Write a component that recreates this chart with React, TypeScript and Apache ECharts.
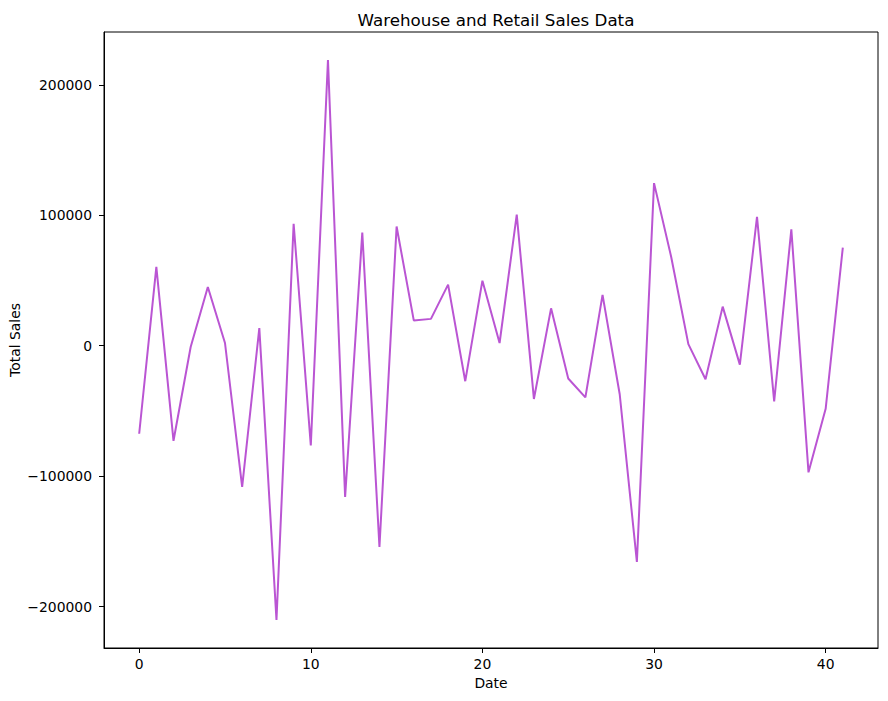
import { useEffect, useRef } from "react";
import * as echarts from "echarts";

// x positions (row index used as "Date" in the source plot)
const DATES = [
  0, 1, 2, 3, 4, 5, 6, 7, 8, 9, 10, 11, 12, 13, 14, 15, 16, 17, 18, 19, 20,
  21, 22, 23, 24, 25, 26, 27, 28, 29, 30, 31, 32, 33, 34, 35, 36, 37, 38, 39, 40, 41,
];

// total sales
const TOTAL_SALES = [
  -67500, 60500, -72900, -1000, 45100, 2100, -108300, 13600, -210300, 93500,
  -76500, 219100, -115900, 86800, -154300, 91400, 19400, 20600, 46900, -27200,
  49900, 2100, 100500, -40800, 28700, -25100, -39600, 39000, -37200, -165800,
  124700, 68100, 1200, -25700, 30000, -14500, 98900, -42700, 89300, -97100,
  -48400, 75300,
];

const X_TICKS = [0, 10, 20, 30, 40];
const Y_TICKS = [-200000, -100000, 0, 100000, 200000];

const FONT = "DejaVu Sans";

const fmt = (v: number) => (v < 0 ? "\u2212" + Math.abs(v) : String(v));

export default function App() {
  const chartRef = useRef<HTMLDivElement>(null);

  useEffect(() => {
    document.body.style.margin = "0";
    if (!chartRef.current) return;
    const chart = echarts.init(chartRef.current, null, { renderer: "svg" });

    chart.setOption({
      animation: false,
      backgroundColor: "#fff",
      title: {
        text: "Warehouse and Retail Sales Data",
        left: 491,
        top: 6,
        textAlign: "center",
        textStyle: { fontFamily: FONT, fontSize: 16.7, fontWeight: "normal", color: "#000" },
      },
      grid: {
        left: 104,
        right: 10,
        top: 32,
        bottom: 53,
        outerBoundsMode: "none",
        containLabel: false,
        show: true,
        borderColor: "#000",
        borderWidth: 1,
        backgroundColor: "transparent",
      },
      xAxis: {
        type: "value",
        min: -2.05,
        max: 43.05,
        name: "Date",
        nameLocation: "middle",
        nameGap: 28,
        nameMoveOverlap: false,
        nameTextStyle: { fontFamily: FONT, fontSize: 13.9, color: "#000" },
        splitLine: { show: false },
        axisLine: { show: true, onZero: false, lineStyle: { color: "#000", width: 1 } },
        axisTick: { show: true, length: 5, lineStyle: { color: "#000" }, customValues: X_TICKS },
        axisLabel: {
          fontFamily: FONT,
          fontSize: 13.9,
          color: "#000",
          margin: 9,
          customValues: X_TICKS,
          formatter: (v: number) => fmt(v),
        },
      },
      yAxis: {
        type: "value",
        min: -231800,
        max: 240600,
        name: "Total Sales",
        nameLocation: "middle",
        nameRotate: 90,
        nameGap: 82,
        nameMoveOverlap: false,
        nameTextStyle: { fontFamily: FONT, fontSize: 13.9, color: "#000" },
        splitLine: { show: false },
        axisLine: { show: true, onZero: false, lineStyle: { color: "#000", width: 1 } },
        axisTick: { show: true, length: 5, lineStyle: { color: "#000" }, customValues: Y_TICKS },
        axisLabel: {
          fontFamily: FONT,
          fontSize: 13.9,
          color: "#000",
          margin: 12,
          customValues: Y_TICKS,
          formatter: (v: number) => fmt(v),
        },
      },
      series: [
        {
          type: "line",
          data: DATES.map((d, i) => [d, TOTAL_SALES[i]]),
          showSymbol: false,
          lineStyle: { color: "#BA55D3", width: 2 },
        },
      ],
    });

    return () => chart.dispose();
  }, []);

  return <div ref={chartRef} style={{ width: "888px", height: "701px" }} />;
}
